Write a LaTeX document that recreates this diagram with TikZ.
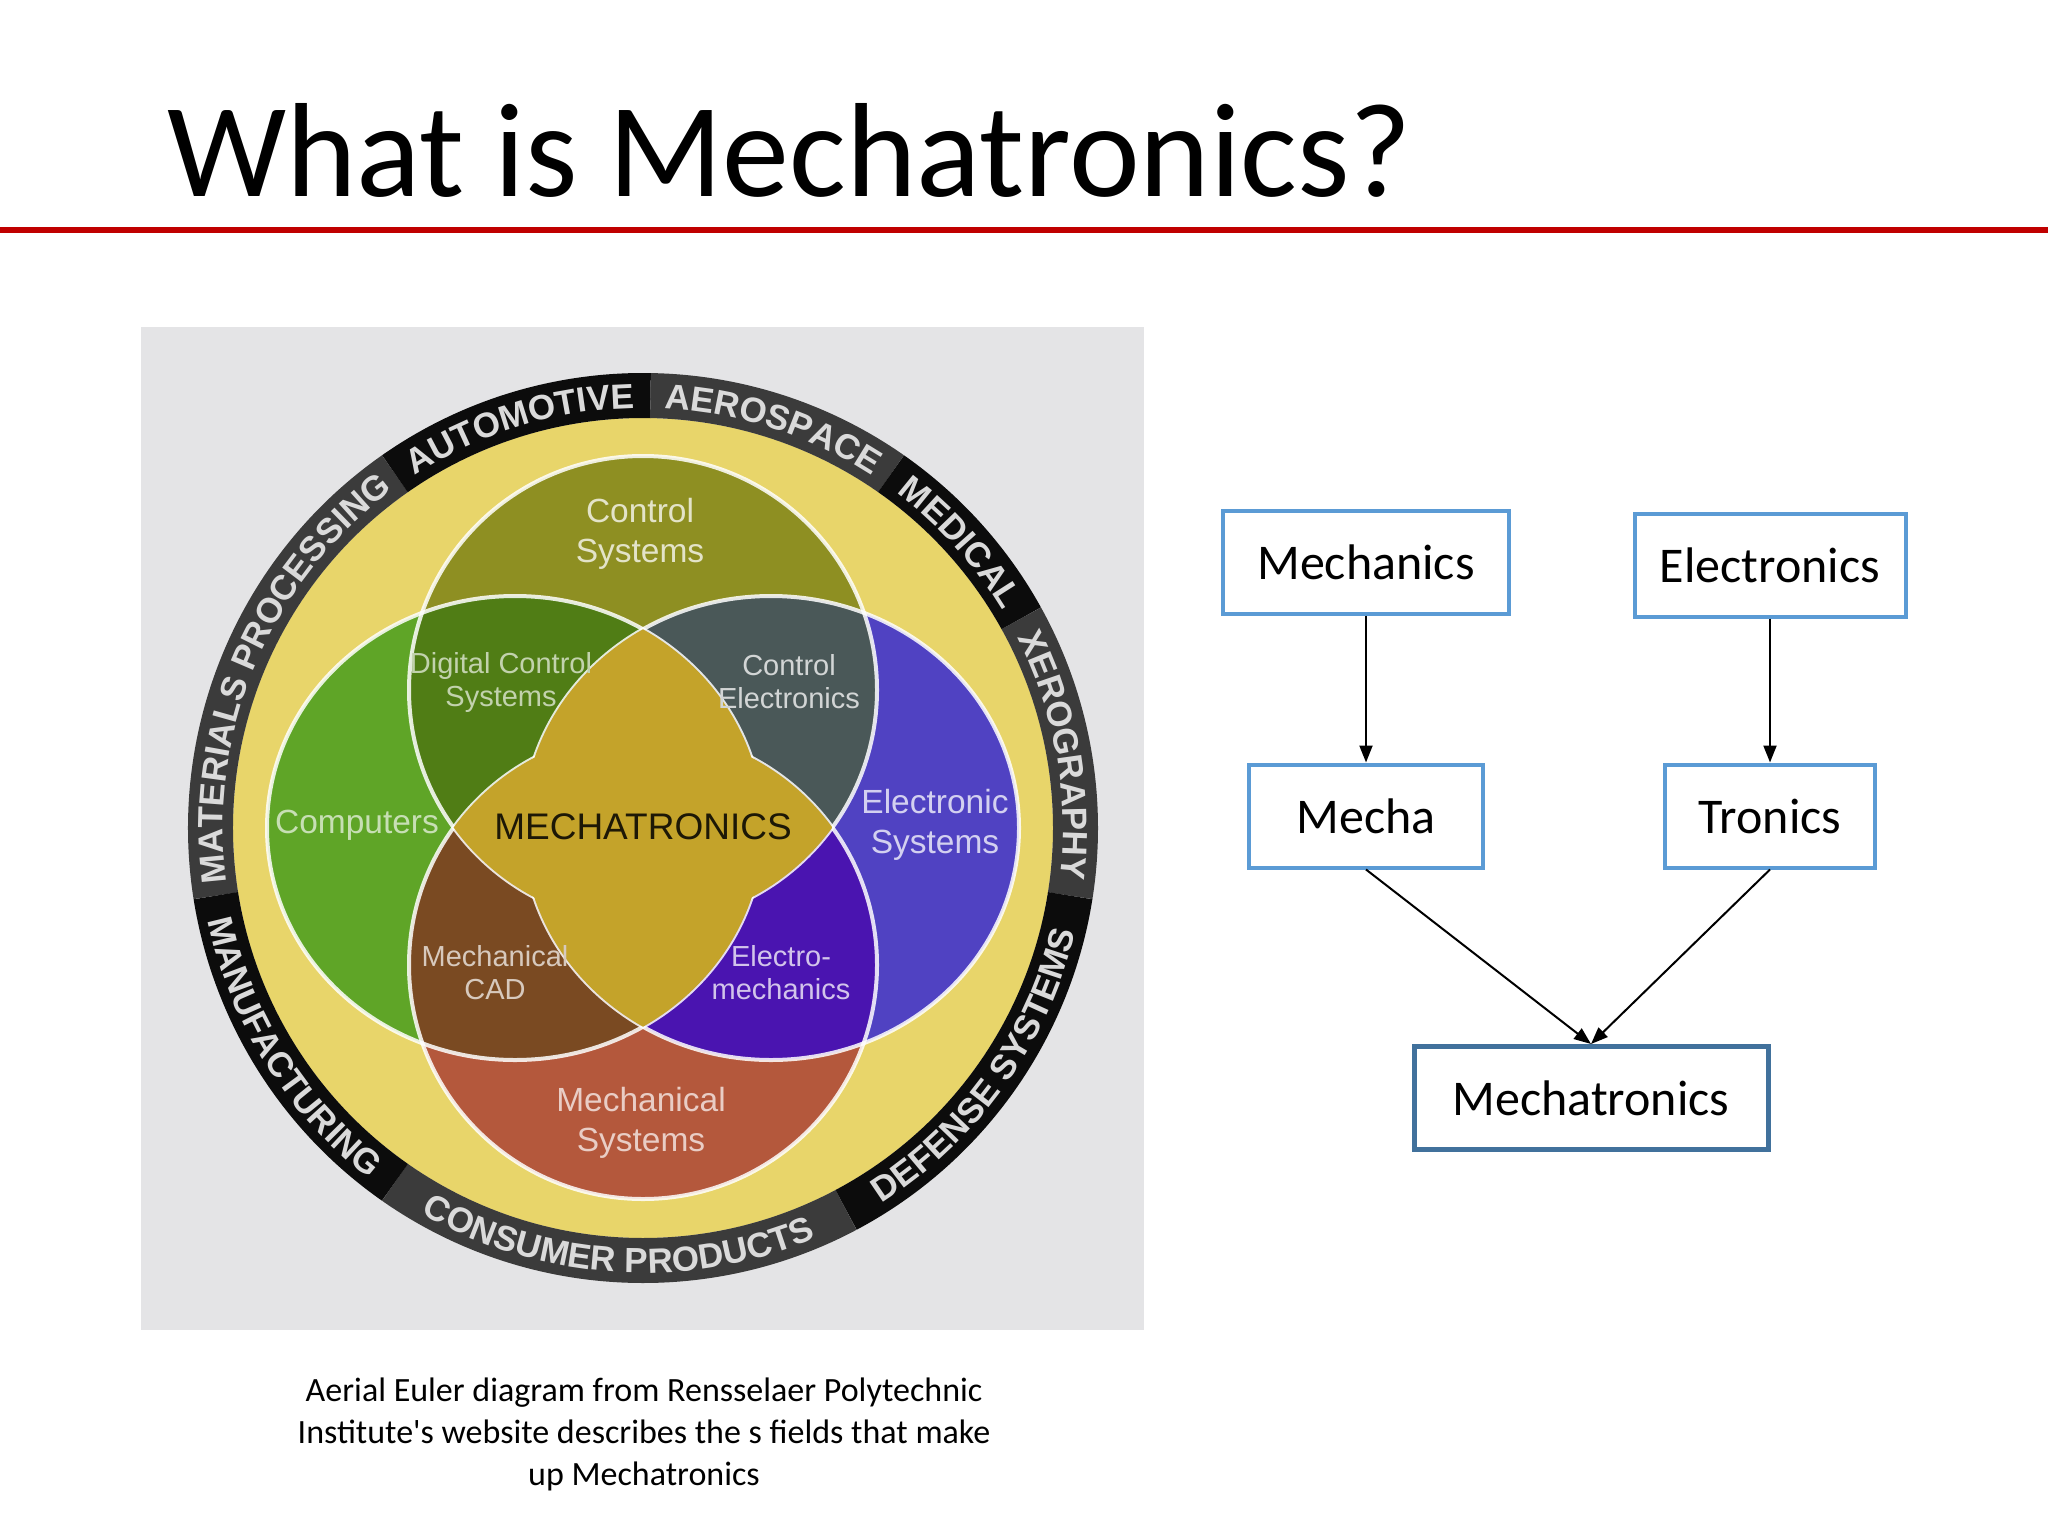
\documentclass[tikz,border=0pt]{standalone}
\usepackage{fontspec}
\setmainfont{Carlito}
\newfontfamily\arialfont{Liberation Sans}
\usepackage{tikz}
\usetikzlibrary{positioning}
\usetikzlibrary{arrows.meta, decorations.text}

\definecolor{slidered}{HTML}{C00000}
\definecolor{panelgray}{HTML}{E4E4E6}
\definecolor{ringyellow}{HTML}{E8D56A}
\definecolor{ringblack}{HTML}{0C0C0C}
\definecolor{ringgray}{HTML}{3B3B3B}
\definecolor{ringtext}{HTML}{DADADA}
\definecolor{ctrlcol}{HTML}{8E8F22}
\definecolor{compcol}{HTML}{5FA527}
\definecolor{elcol}{HTML}{5042C2}
\definecolor{mechcol}{HTML}{B4583C}
\definecolor{dcscol}{HTML}{507D15}
\definecolor{cecol}{HTML}{4A5858}
\definecolor{cadcol}{HTML}{7A4A22}
\definecolor{emcol}{HTML}{4A14B0}
\definecolor{corecol}{HTML}{C4A32A}
\definecolor{boxblue}{HTML}{5B9BD5}
\definecolor{boxdark}{HTML}{41719C}

\newcommand{\ringfont}{\arialfont\bfseries\fontsize{35}{35}\selectfont}
\newcommand{\bigvenn}{\arialfont\fontsize{33.5}{40}\selectfont}
\newcommand{\smallvenn}{\arialfont\fontsize{29}{33}\selectfont}
\newcommand{\straightquote}{\XeTeXglyph\numexpr\XeTeXcharglyph"27\relax}

\begin{document}
\begin{tikzpicture}[x=1pt,y=1pt]
    \tikzset{
    field/.style={line width=45pt},
    outtext/.style={
        decorate,
        decoration={text along path, text align=center, text color=ringtext, text={|\ringfont|#1}}
    },
    outline/.style={
        draw=white,
        draw opacity=0.85,
        line width=4pt
    },
    biglabel/.style={align=center, font=\bigvenn, inner sep=0pt},
    smalllabel/.style={align=center, font=\smallvenn, inner sep=0pt},
    box/.style={
        draw=boxblue,
        line width=4pt,
        fill=white,
        minimum height=103pt,
        inner sep=0pt,
        font=\fontsize{50}{60}\selectfont
    },
    link/.style={
        line width=2pt,
        -{Triangle[length=17pt, width=13pt]}
    }
}
    \fill[white] (0,0) rectangle (2048,-1536);
    \useasboundingbox (0,0) rectangle (2048,-1536);

    % title
    \node[anchor=base west, inner sep=0pt, font=\fontsize{134}{140}\selectfont] (title) at (167,-196) {What is Mechatronics?};
    \draw[slidered, line width=6pt] (0,-230) -- (2048,-230);

    % picture panel
    \fill[panelgray] (141,-327) rectangle (1144,-1330);

    \begin{scope}[shift={(643,-828)}]
        \fill[ringyellow] (0,0) circle[radius=410];
        \draw[field, ringgray]  (189:432.5) arc[start angle=189, end angle=125, radius=432.5];
        \draw[field, ringblack] (125:432.5) arc[start angle=125, end angle=89, radius=432.5];
        \draw[field, ringgray]  (89:432.5) arc[start angle=89, end angle=55, radius=432.5];
        \draw[field, ringblack] (55:432.5) arc[start angle=55, end angle=29, radius=432.5];
        \draw[field, ringgray]  (29:432.5) arc[start angle=29, end angle=-9, radius=432.5];
        \draw[field, ringblack] (-9:432.5) arc[start angle=-9, end angle=-62, radius=432.5];
        \draw[field, ringgray]  (-62:432.5) arc[start angle=-62, end angle=-125, radius=432.5];
        \draw[field, ringblack] (-125:432.5) arc[start angle=-125, end angle=-171, radius=432.5];

        \path[outtext={MATERIALS PROCESSING}] (189:420) arc[start angle=189, end angle=125, radius=420];
        \path[outtext={AUTOMOTIVE}] (125:420) arc[start angle=125, end angle=89, radius=420];
        \path[outtext={AEROSPACE}] (89:420) arc[start angle=89, end angle=55, radius=420];
        \path[outtext={MEDICAL}] (55:420) arc[start angle=55, end angle=29, radius=420];
        \path[outtext={XEROGRAPHY}] (29:420) arc[start angle=29, end angle=-9, radius=420];
        \path[outtext={DEFENSE SYSTEMS}] (-62:445) arc[start angle=-62, end angle=-9, radius=445];
        \path[outtext={CONSUMER PRODUCTS}] (-125:445) arc[start angle=-125, end angle=-62, radius=445];
        \path[outtext={MANUFACTURING}] (189:445) arc[start angle=189, end angle=235, radius=445];
    \end{scope}

    % the four fields
    \fill[ctrlcol] (643,-690) circle[radius=234];
    \fill[mechcol] (643,-965) circle[radius=234];
    \fill[compcol] (515,-828) ellipse[x radius=248, y radius=232];
    \fill[elcol] (771,-828) ellipse[x radius=248, y radius=232];
    \begin{scope}
        \clip (643,-690) circle[radius=234];
        \fill[dcscol] (515,-828) ellipse[x radius=248, y radius=232];
        \fill[cecol] (771,-828) ellipse[x radius=248, y radius=232];
    \end{scope}
    \begin{scope}
        \clip (643,-965) circle[radius=234];
        \fill[cadcol] (515,-828) ellipse[x radius=248, y radius=232];
        \fill[emcol] (771,-828) ellipse[x radius=248, y radius=232];
    \end{scope}
    \path[outline] (643,-690) circle[radius=234];
    \path[outline] (643,-965) circle[radius=234];
    \path[outline] (515,-828) ellipse[x radius=248, y radius=232];
    \path[outline] (771,-828) ellipse[x radius=248, y radius=232];
    \begin{scope}
        \clip (515,-828) ellipse[x radius=248, y radius=232];
        \fill[corecol] (771,-828) ellipse[x radius=248, y radius=232];
    \end{scope}
    \begin{scope}
        \clip (643,-690) circle[radius=234];
        \fill[corecol] (643,-965) circle[radius=234];
    \end{scope}

    \node[biglabel, text=ctrlcol!25!white] (ctrl) at (640,-534) {Control\\Systems};
    \node[smalllabel, text=dcscol!35!white] (dcs) at (501,-682) {Digital Control\\Systems};
    \node[smalllabel, text=cecol!25!white] (ce) at (789,-682) {Control\\Electronics};
    \node[biglabel, text=compcol!35!white] (comp) at (357,-825) {Computers};
    \node[font=\arialfont\fontsize{37}{40}\selectfont, text=black!85!corecol, inner sep=0pt] (core) at (643,-827) {MECHATRONICS};
    \node[biglabel, text=elcol!25!white] (es) at (935,-825) {Electronic\\Systems};
    \node[smalllabel, text=cadcol!30!white] (cad) at (495,-973) {Mechanical\\CAD};
    \node[smalllabel, text=emcol!25!white] (em) at (781,-973) {Electro-\\mechanics};
    \node[biglabel, text=mechcol!30!white] (ms) at (641,-1123) {Mechanical\\Systems};

    \node[align=center, font=\fontsize{34}{42}\selectfont] (caption) at (644,-1434) {Aerial Euler diagram from Rensselaer Polytechnic\\Institute\straightquote s website describes the s fields that make\\up Mechatronics};

    % flow chart
    \node[box, minimum width=286pt] (mechanics) at (1366,-562) {Mechanics};
    \node[box, minimum width=271pt] (electronics) at (1770,-565) {Electronics};
    \node[box, minimum width=234pt] (mecha) at (1366,-816) {Mecha};
    \node[box, minimum width=210pt] (tronics) at (1770,-816) {Tronics};
    \node[box, draw=boxdark, line width=5pt, minimum width=354pt] (mechatronics) at (1591,-1098) {Mechatronics};

    \draw[link] (mechanics) -- (mecha);
    \draw[link] (electronics) -- (tronics);
    \draw[link] (mecha.south) -- (mechatronics.north);
    \draw[link] (tronics.south) -- (mechatronics.north);
\end{tikzpicture}
\end{document}
